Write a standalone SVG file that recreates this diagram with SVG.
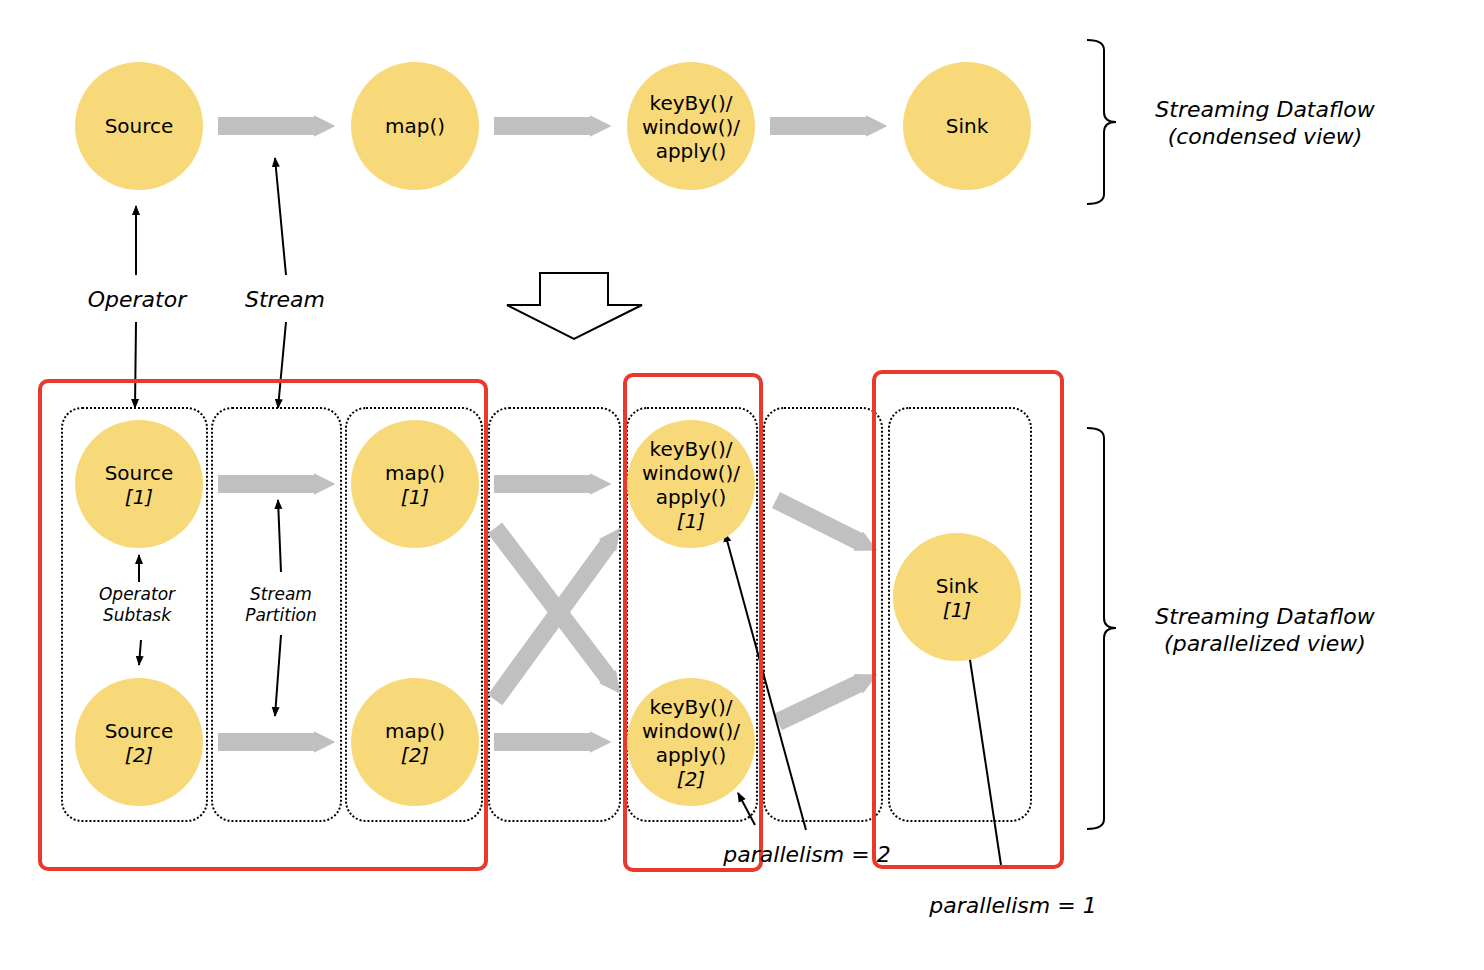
<svg xmlns="http://www.w3.org/2000/svg" width="1484" height="970" viewBox="0 0 1484 970">
<defs>
<style>
.n{fill:#f8d97a}
.t{font-family:"Lucida Grande","DejaVu Sans",sans-serif;font-size:20px;text-anchor:middle;fill:#000}
.i{font-style:italic}
.g{stroke:#c0c0c0;stroke-width:18;fill:none}
.col{fill:none;stroke:#000;stroke-width:2;stroke-dasharray:2 2}
.red{fill:none;stroke:#e8392c;stroke-width:4}
.k{stroke:#000;stroke-width:2;fill:none}
.lab{font-family:"DejaVu Sans",sans-serif;font-style:italic;text-anchor:middle;fill:#000}
</style>
<marker id="ga" viewBox="0 0 10 10" refX="2" refY="5" markerWidth="1.2" markerHeight="1.8" orient="auto" markerUnits="strokeWidth"><path d="M0,0L10,5L0,10z" fill="#c0c0c0"/></marker>
<marker id="ka" viewBox="0 0 10 10" refX="9" refY="5" markerWidth="5" markerHeight="5" orient="auto" markerUnits="strokeWidth"><path d="M0,1L10,5L0,9z" fill="#000"/></marker>
</defs>
<g id="columns">
<rect class="col" x="62" y="408" width="145" height="413" rx="20"/>
<rect class="col" x="212" y="408" width="129" height="413" rx="20"/>
<rect class="col" x="346" y="408" width="136" height="413" rx="20"/>
<rect class="col" x="489" y="408" width="131" height="413" rx="20"/>
<rect class="col" x="627" y="408" width="130" height="413" rx="20"/>
<rect class="col" x="764" y="408" width="118" height="413" rx="20"/>
<rect class="col" x="889" y="408" width="142" height="413" rx="20"/>
</g>
<g id="connectors">
<line class="g" x1="218" y1="126" x2="318" y2="126" marker-end="url(#ga)"/>
<line class="g" x1="494" y1="126" x2="594" y2="126" marker-end="url(#ga)"/>
<line class="g" x1="770" y1="126" x2="870" y2="126" marker-end="url(#ga)"/>
<line class="g" x1="218" y1="484" x2="318" y2="484" marker-end="url(#ga)"/>
<line class="g" x1="494" y1="484" x2="594" y2="484" marker-end="url(#ga)"/>
<line class="g" x1="218" y1="742" x2="318" y2="742" marker-end="url(#ga)"/>
<line class="g" x1="494" y1="742" x2="594" y2="742" marker-end="url(#ga)"/>
<line class="g" x1="495" y1="528" x2="610" y2="680" marker-end="url(#ga)"/>
<line class="g" x1="495" y1="700" x2="610" y2="542" marker-end="url(#ga)"/>
<line class="g" x1="776" y1="500" x2="862" y2="543" marker-end="url(#ga)"/>
<line class="g" x1="778" y1="722" x2="862" y2="682" marker-end="url(#ga)"/>
<line class="k" x1="136" y1="275" x2="136" y2="206" marker-end="url(#ka)"/>
<line class="k" x1="286" y1="275" x2="275" y2="158" marker-end="url(#ka)"/>
<line class="k" x1="136" y1="322" x2="135" y2="408" marker-end="url(#ka)"/>
<line class="k" x1="286" y1="322" x2="278" y2="408" marker-end="url(#ka)"/>
<line class="k" x1="139" y1="582" x2="139" y2="555" marker-end="url(#ka)"/>
<line class="k" x1="141" y1="640" x2="139" y2="665" marker-end="url(#ka)"/>
<line class="k" x1="281" y1="572" x2="278" y2="500" marker-end="url(#ka)"/>
<line class="k" x1="281" y1="635" x2="275" y2="716" marker-end="url(#ka)"/>
<line class="k" x1="806" y1="830" x2="725" y2="533" marker-end="url(#ka)"/>
<line class="k" x1="755" y1="825" x2="738" y2="793" marker-end="url(#ka)"/>
<line class="k" x1="1001" y1="865" x2="967" y2="640" marker-end="url(#ka)"/>
</g>
<g id="top-nodes">
<g id="n-source"><circle class="n" cx="139" cy="126" r="64"/><text class="t" x="139" y="133">Source</text></g>
<g id="n-map"><circle class="n" cx="415" cy="126" r="64"/><text class="t" x="415" y="133">map()</text></g>
<g id="n-keyby"><circle class="n" cx="691" cy="126" r="64"/><text class="t" x="691" y="110">keyBy()/</text><text class="t" x="691" y="134">window()/</text><text class="t" x="691" y="158">apply()</text></g>
<g id="n-sink"><circle class="n" cx="967" cy="126" r="64"/><text class="t" x="967" y="133">Sink</text></g>
</g>
<g id="bottom-nodes">
<g id="s1"><circle class="n" cx="139" cy="484" r="64"/><text class="t" x="139" y="480">Source</text><text class="t i" x="139" y="504">[1]</text></g>
<g id="s2"><circle class="n" cx="139" cy="742" r="64"/><text class="t" x="139" y="738">Source</text><text class="t i" x="139" y="762">[2]</text></g>
<g id="m1"><circle class="n" cx="415" cy="484" r="64"/><text class="t" x="415" y="480">map()</text><text class="t i" x="415" y="504">[1]</text></g>
<g id="m2"><circle class="n" cx="415" cy="742" r="64"/><text class="t" x="415" y="738">map()</text><text class="t i" x="415" y="762">[2]</text></g>
<g id="k1"><circle class="n" cx="691" cy="484" r="64"/><text class="t" x="691" y="456">keyBy()/</text><text class="t" x="691" y="480">window()/</text><text class="t" x="691" y="504">apply()</text><text class="t i" x="691" y="528">[1]</text></g>
<g id="k2"><circle class="n" cx="691" cy="742" r="64"/><text class="t" x="691" y="714">keyBy()/</text><text class="t" x="691" y="738">window()/</text><text class="t" x="691" y="762">apply()</text><text class="t i" x="691" y="786">[2]</text></g>
<g id="sk1"><circle class="n" cx="957" cy="597" r="64"/><text class="t" x="957" y="593">Sink</text><text class="t i" x="957" y="617">[1]</text></g>
</g>
<g id="red-boxes">
<rect class="red" x="40" y="381" width="446" height="488" rx="8"/>
<rect class="red" x="625" y="375" width="136" height="495" rx="8"/>
<rect class="red" x="874" y="372" width="188" height="495" rx="8"/>
</g>
<g id="big-arrow"><polygon points="540,273 608,273 608,305 642,305 574,339 507,305 540,305" fill="#fff" stroke="#000" stroke-width="2"/></g>
<g id="brackets" class="k">
<path d="M1087,40 Q1104,40 1104,50 L1104,112 Q1104,122 1116,122 Q1104,122 1104,132 L1104,194 Q1104,204 1087,204"/>
<path d="M1087,428 Q1104,428 1104,438 L1104,618 Q1104,628 1116,628 Q1104,628 1104,638 L1104,819 Q1104,829 1087,829"/>
</g>
<g id="labels">
<text class="lab" x="1265" y="117" font-size="22">Streaming Dataflow</text>
<text class="lab" x="1265" y="144" font-size="22">(condensed view)</text>
<text class="lab" x="1265" y="624" font-size="22">Streaming Dataflow</text>
<text class="lab" x="1265" y="651" font-size="22">(parallelized view)</text>
<text class="lab" x="137" y="307" font-size="22">Operator</text>
<text class="lab" x="285" y="307" font-size="22">Stream</text>
<text class="lab" x="137" y="600" font-size="17">Operator</text>
<text class="lab" x="137" y="621" font-size="17">Subtask</text>
<text class="lab" x="281" y="600" font-size="17">Stream</text>
<text class="lab" x="281" y="621" font-size="17">Partition</text>
<text class="lab" x="807" y="862" font-size="22">parallelism = 2</text>
<text class="lab" x="1013" y="913" font-size="22">parallelism = 1</text>
</g>
</svg>
